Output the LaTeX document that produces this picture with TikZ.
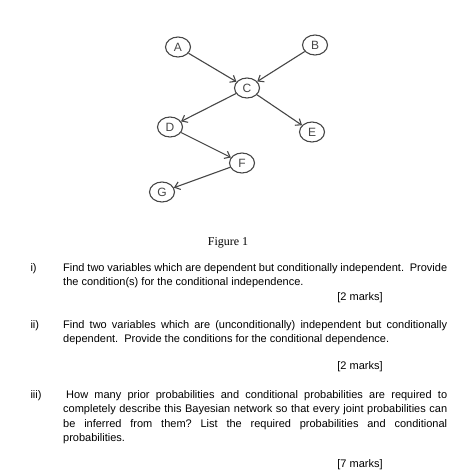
\documentclass[tikz,border=0pt]{standalone}
\usepackage{fontspec}
\setmainfont{Liberation Serif}
\setsansfont{Liberation Sans}
\usetikzlibrary{arrows.meta}
\usetikzlibrary{shapes}

\definecolor{pencil}{RGB}{70,70,70}

\begin{document}
\frenchspacing
\begin{tikzpicture}[x=1pt, y=-1pt,
        node_style/.style={ellipse,draw=pencil,line width=1.1pt,inner sep=0pt,minimum width=25pt,minimum height=20pt,text=pencil,font=\sffamily\fontsize{12}{12}\selectfont},
        edge_style/.style={draw=pencil, line width=1.1pt, -{Straight Barb[length=5pt,width=8pt]}},
        label_style/.style={anchor=base west,font=\sffamily\fontsize{11}{14.5}\selectfont},
        item_style/.style={anchor=base west,inner sep=0pt,text width=384pt,align=justify,font=\sffamily\fontsize{11}{14.5}\selectfont},
        marks_style/.style={anchor=base,inner sep=0pt,font=\sffamily\fontsize{11}{14.5}\selectfont}]

        \useasboundingbox (0,0) rectangle (474,474);

        \node [node_style](a) at (178,47) {A};
        \node [node_style](b) at (315,45) {B};
        \node [node_style](c) at (247,88) {C};
        \node [node_style](d) at (170,127) {D};
        \node [node_style](e) at (312,132) {E};
        \node [node_style](f) at (242,163) {F};
        \node [node_style](g) at (162,192) {G};
        \draw [edge_style] (a) -- (c);
        \draw [edge_style] (b) -- (c);
        \draw [edge_style] (c) -- (d);
        \draw [edge_style] (c) -- (e);
        \draw [edge_style] (d) -- (f);
        \draw [edge_style] (f) -- (g);

        \node [anchor=base,font=\rmfamily\fontsize{12}{13}\selectfont](fig) at (228,245) {Figure 1};

        \node [label_style](l1) at (27,271) {i)};
        \node [item_style](q1) at (63,271) {Find two variables which are dependent but conditionally independent.\ \ Provide\linebreak the condition(s) for the conditional independence.};
        \node [marks_style](m1) at (360,300) {[2 marks]};

        \node [label_style](l2) at (27,328) {ii)};
        \node [item_style](q2) at (63,328) {Find two variables which are (unconditionally) independent but conditionally\linebreak dependent.\ \ Provide the conditions for the conditional dependence.};
        \node [marks_style](m2) at (360,369) {[2 marks]};

        \node [label_style](l3) at (27,398) {iii)};
        \node [item_style](q3) at (63,398) {\hspace{3pt}How many prior probabilities and conditional probabilities are required to\linebreak completely describe this Bayesian network so that every joint probabilities can\linebreak be inferred from them? List the required probabilities and conditional\linebreak probabilities.};
        \node [marks_style](m3) at (360,467) {[7 marks]};
\end{tikzpicture}
\end{document}
